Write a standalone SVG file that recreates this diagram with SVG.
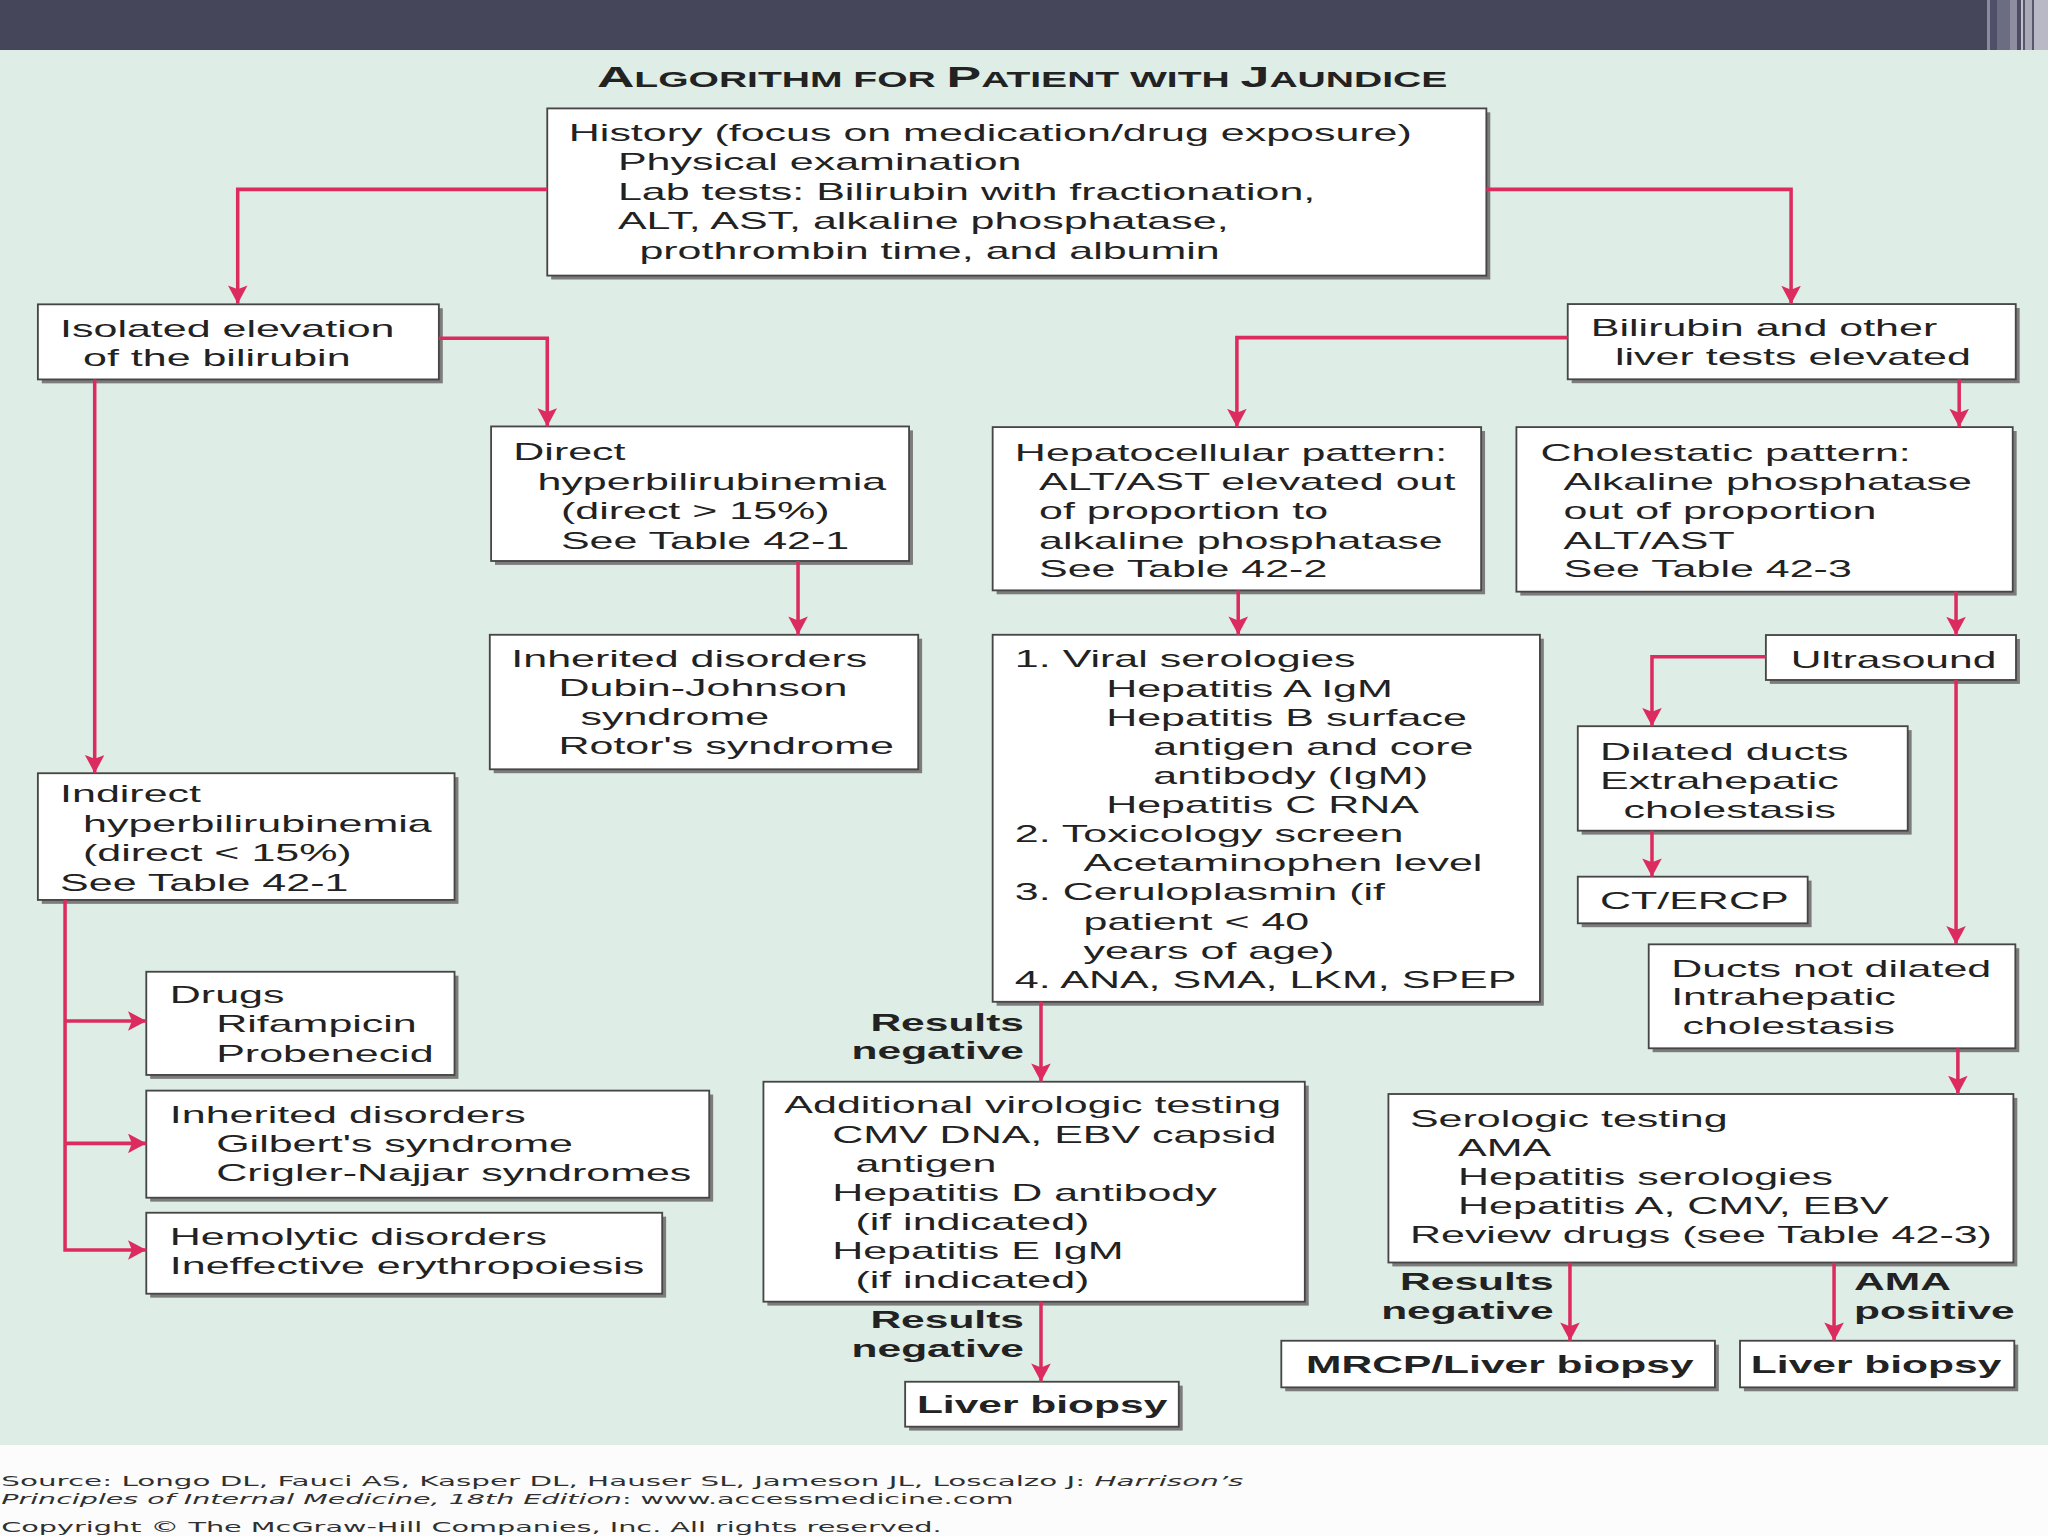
<svg xmlns="http://www.w3.org/2000/svg" width="2048" height="1536" viewBox="0 0 2048 1536">
<defs>
<style>
.box{fill:#ffffff;stroke:#464646;stroke-width:1.4}
.sh{fill:#7c7c7c}
.t{font-family:"Liberation Sans",Arial,Helvetica,sans-serif;font-size:17.6px;fill:#222222}
.b{font-weight:bold}
.c{fill:none;stroke:#dc2b5f;stroke-width:2.7;marker-end:url(#ah)}
.ft{font-family:"DejaVu Sans",Verdana,sans-serif;font-size:11.2px;fill:#303030}
</style>
<marker id="ah" markerUnits="userSpaceOnUse" markerWidth="14" markerHeight="15" viewBox="0 0 14 15" refX="14" refY="7.5" orient="auto">
<path d="M0,0 L14,7.5 L0,15 L3,7.5 Z" fill="#dc2b5f"/>
</marker>
</defs>
<rect width="2048" height="1536" fill="#fbfcfb"/>
<rect y="50" width="2048" height="1395" fill="#deede6"/>
<g id="header">
<rect width="2048" height="50" fill="#45465a"/>
<rect x="1987" width="3" height="50" fill="#8a8aa0"/>
<rect x="1990" width="7" height="50" fill="#4f5068"/>
<rect x="1997" width="13" height="50" fill="#6c6c82"/>
<rect x="2010" width="7" height="50" fill="#8e8ea0"/>
<rect x="2017" width="4" height="50" fill="#4c4d63"/>
<rect x="2021" width="2" height="50" fill="#c0c0cc"/>
<rect x="2023" width="2" height="50" fill="#55566b"/>
<rect x="2025" width="7" height="50" fill="#a9a9b8"/>
<rect x="2032" width="2" height="50" fill="#56576c"/>
<rect x="2034" width="14" height="50" fill="#b9b9c6"/>
</g>
<g transform="scale(1.306122)">
<g id="title">
<text class="t b" transform="translate(457 66.9) scale(1.78 1)"><tspan font-size="22.3">A</tspan><tspan font-size="16.8">LGORITHM FOR </tspan><tspan font-size="22.3">P</tspan><tspan font-size="16.8">ATIENT WITH </tspan><tspan font-size="22.3">J</tspan><tspan font-size="16.8">AUNDICE</tspan></text>
</g>

<g id="n-history">
<rect class="sh" x="422" y="86" width="719" height="128"/>
<rect class="box" x="419" y="83" width="719" height="128"/>
<text class="t" transform="translate(435.5 0) scale(1.87 1)"><tspan x="0" y="108">History (focus on medication/drug exposure)</tspan><tspan x="20.1" y="130.5">Physical examination</tspan><tspan x="20.1" y="153">Lab tests: Bilirubin with fractionation,</tspan><tspan x="20.1" y="175.5">ALT, AST, alkaline phosphatase,</tspan><tspan x="28.9" y="198">prothrombin time, and albumin</tspan></text>
</g>

<g id="n-isolated">
<rect class="sh" x="32" y="236" width="307" height="57.5"/>
<rect class="box" x="29" y="233" width="307" height="57.5"/>
<text class="t" transform="translate(46 0) scale(1.87 1)"><tspan x="0" y="258">Isolated elevation</tspan><tspan x="9.4" y="280.5">of the bilirubin</tspan></text>
</g>

<g id="n-direct">
<rect class="sh" x="379" y="329.5" width="320" height="103"/>
<rect class="box" x="376" y="326.5" width="320" height="103"/>
<text class="t" transform="translate(393 0) scale(1.87 1)"><tspan x="0" y="352.5">Direct</tspan><tspan x="9.9" y="375">hyperbilirubinemia</tspan><tspan x="19.5" y="397.5">(direct &gt; 15%)</tspan><tspan x="19.5" y="420">See Table 42-1</tspan></text>
</g>

<g id="n-inherited-direct">
<rect class="sh" x="378" y="489" width="328" height="103"/>
<rect class="box" x="375" y="486" width="328" height="103"/>
<text class="t" transform="translate(391.5 0) scale(1.87 1)"><tspan x="0" y="510.5">Inherited disorders</tspan><tspan x="19.3" y="533">Dubin-Johnson</tspan><tspan x="28.3" y="555">syndrome</tspan><tspan x="19.3" y="577.5">Rotor's syndrome</tspan></text>
</g>

<g id="n-indirect">
<rect class="sh" x="32" y="595" width="319" height="97"/>
<rect class="box" x="29" y="592" width="319" height="97"/>
<text class="t" transform="translate(46 0) scale(1.87 1)"><tspan x="0" y="614">Indirect</tspan><tspan x="9.4" y="637">hyperbilirubinemia</tspan><tspan x="9.4" y="659">(direct &lt; 15%)</tspan><tspan x="0" y="682">See Table 42-1</tspan></text>
</g>

<g id="n-drugs">
<rect class="sh" x="115" y="747" width="236" height="79"/>
<rect class="box" x="112" y="744" width="236" height="79"/>
<text class="t" transform="translate(130 0) scale(1.87 1)"><tspan x="0" y="768">Drugs</tspan><tspan x="19" y="790.5">Rifampicin</tspan><tspan x="19" y="813">Probenecid</tspan></text>
</g>

<g id="n-inherited-indirect">
<rect class="sh" x="115" y="838" width="431" height="82"/>
<rect class="box" x="112" y="835" width="431" height="82"/>
<text class="t" transform="translate(130 0) scale(1.87 1)"><tspan x="0" y="860">Inherited disorders</tspan><tspan x="19" y="882">Gilbert's syndrome</tspan><tspan x="19" y="904.5">Crigler-Najjar syndromes</tspan></text>
</g>

<g id="n-hemolytic">
<rect class="sh" x="115" y="931.5" width="395" height="62"/>
<rect class="box" x="112" y="928.5" width="395" height="62"/>
<text class="t" transform="translate(130 0) scale(1.87 1)"><tspan x="0" y="953">Hemolytic disorders</tspan><tspan x="0" y="975.5">Ineffective erythropoiesis</tspan></text>
</g>

<g id="n-bilirubin-other">
<rect class="sh" x="1203.3" y="235.8" width="343" height="57.6"/>
<rect class="box" x="1200.3" y="232.8" width="343" height="57.6"/>
<text class="t" transform="translate(1218 0) scale(1.87 1)"><tspan x="0" y="257.5">Bilirubin and other</tspan><tspan x="9.9" y="279.8">liver tests elevated</tspan></text>
</g>

<g id="n-hepatocellular">
<rect class="sh" x="763" y="330" width="374" height="125"/>
<rect class="box" x="760" y="327" width="374" height="125"/>
<text class="t" transform="translate(777 0) scale(1.87 1)"><tspan x="0" y="353">Hepatocellular pattern:</tspan><tspan x="9.9" y="375.5">ALT/AST elevated out</tspan><tspan x="9.9" y="397.5">of proportion to</tspan><tspan x="9.9" y="420">alkaline phosphatase</tspan><tspan x="9.9" y="442">See Table 42-2</tspan></text>
</g>

<g id="n-cholestatic">
<rect class="sh" x="1164" y="330" width="380" height="126"/>
<rect class="box" x="1161" y="327" width="380" height="126"/>
<text class="t" transform="translate(1179.5 0) scale(1.87 1)"><tspan x="0" y="353">Cholestatic pattern:</tspan><tspan x="9.4" y="375.5">Alkaline phosphatase</tspan><tspan x="9.4" y="397.5">out of proportion</tspan><tspan x="9.4" y="420">ALT/AST</tspan><tspan x="9.4" y="442">See Table 42-3</tspan></text>
</g>

<g id="n-viral">
<rect class="sh" x="763" y="489" width="419" height="281"/>
<rect class="box" x="760" y="486" width="419" height="281"/>
<text class="t" transform="translate(777 0) scale(1.87 1)"><tspan x="0" y="511">1. Viral serologies</tspan><tspan x="37.4" y="533.3">Hepatitis A IgM</tspan><tspan x="37.4" y="555.6">Hepatitis B surface</tspan><tspan x="56.7" y="577.9">antigen and core</tspan><tspan x="56.7" y="600.2">antibody (IgM)</tspan><tspan x="37.4" y="622.5">Hepatitis C RNA</tspan><tspan x="0" y="644.8">2. Toxicology screen</tspan><tspan x="28.1" y="667.1">Acetaminophen level</tspan><tspan x="0" y="689.4">3. Ceruloplasmin (if</tspan><tspan x="28.1" y="711.7">patient &lt; 40</tspan><tspan x="28.1" y="734">years of age)</tspan><tspan x="0" y="756.3">4. ANA, SMA, LKM, SPEP</tspan></text>
</g>

<g id="n-additional">
<rect class="sh" x="587.5" y="831.2" width="414.5" height="168.4"/>
<rect class="box" x="584.5" y="828.2" width="414.5" height="168.4"/>
<text class="t" transform="translate(600.5 0) scale(1.87 1)"><tspan x="0" y="852.4">Additional virologic testing</tspan><tspan x="19.6" y="875.1">CMV DNA, EBV capsid</tspan><tspan x="29.1" y="897.4">antigen</tspan><tspan x="19.6" y="919.7">Hepatitis D antibody</tspan><tspan x="29.1" y="942">(if indicated)</tspan><tspan x="19.6" y="964.3">Hepatitis E IgM</tspan><tspan x="29.1" y="986.5">(if indicated)</tspan></text>
</g>

<g id="n-liver-biopsy-1">
<rect class="sh" x="696" y="1060.9" width="209.5" height="34.4"/>
<rect class="box" x="693" y="1057.9" width="209.5" height="34.4"/>
<text class="t b" transform="translate(702 1082) scale(1.85 1)">Liver biopsy</text>
</g>

<g id="n-ultrasound">
<rect class="sh" x="1355" y="489.2" width="191.5" height="34.4"/>
<rect class="box" x="1352" y="486.2" width="191.5" height="34.4"/>
<text class="t" transform="translate(1371 511.7) scale(1.85 1)">Ultrasound</text>
</g>

<g id="n-dilated">
<rect class="sh" x="1211" y="559" width="252.6" height="80"/>
<rect class="box" x="1208" y="556" width="252.6" height="80"/>
<text class="t" transform="translate(1225 0) scale(1.87 1)"><tspan x="0" y="582">Dilated ducts</tspan><tspan x="0" y="604">Extrahepatic</tspan><tspan x="9.6" y="626.3">cholestasis</tspan></text>
</g>

<g id="n-ct-ercp">
<rect class="sh" x="1211" y="674.2" width="176" height="35.7"/>
<rect class="box" x="1208" y="671.2" width="176" height="35.7"/>
<text class="t" transform="translate(1225 696.2) scale(1.87 1)">CT/ERCP</text>
</g>

<g id="n-not-dilated">
<rect class="sh" x="1265.3" y="726" width="280.7" height="79.6"/>
<rect class="box" x="1262.3" y="723" width="280.7" height="79.6"/>
<text class="t" transform="translate(1279.5 0) scale(1.87 1)"><tspan x="0" y="748">Ducts not dilated</tspan><tspan x="0" y="769.8">Intrahepatic</tspan><tspan x="4.6" y="792">cholestasis</tspan></text>
</g>

<g id="n-serologic">
<rect class="sh" x="1066" y="840.6" width="478.5" height="129"/>
<rect class="box" x="1063" y="837.6" width="478.5" height="129"/>
<text class="t" transform="translate(1079.5 0) scale(1.87 1)"><tspan x="0" y="862.6">Serologic testing</tspan><tspan x="19.7" y="884.8">AMA</tspan><tspan x="19.7" y="907.2">Hepatitis serologies</tspan><tspan x="19.7" y="929.5">Hepatitis A, CMV, EBV</tspan><tspan x="0" y="951.9">Review drugs (see Table 42-3)</tspan></text>
</g>

<g id="n-mrcp">
<rect class="sh" x="984" y="1029.5" width="332" height="35.7"/>
<rect class="box" x="981" y="1026.5" width="332" height="35.7"/>
<text class="t b" transform="translate(1000 1051.5) scale(1.85 1)">MRCP/Liver biopsy</text>
</g>

<g id="n-liver-biopsy-2">
<rect class="sh" x="1335.2" y="1029.5" width="210" height="35.7"/>
<rect class="box" x="1332.2" y="1026.5" width="210" height="35.7"/>
<text class="t b" transform="translate(1340.5 1051.5) scale(1.85 1)">Liver biopsy</text>
</g>

<g id="connectors">
<path class="c" d="M419,145 H182 V232.5"/>
<path class="c" d="M1138,145 H1371.3 V232.8"/>
<path class="c" d="M336,259 H419 V326.5"/>
<path class="c" d="M72.5,290.5 V592"/>
<path class="c" d="M611,429.5 V486"/>
<path class="c" d="M49.8,689 V957 H112"/>
<path class="c" d="M49.8,781.7 H112"/>
<path class="c" d="M49.8,875.4 H112"/>
<path class="c" d="M1200.3,258.5 H947 V327"/>
<path class="c" d="M1500,290.4 V327"/>
<path class="c" d="M948,452 V486"/>
<path class="c" d="M1497.6,453 V486.2"/>
<path class="c" d="M1352,502.8 H1264.8 V556"/>
<path class="c" d="M1497.6,520.6 V723"/>
<path class="c" d="M1264.8,636 V671.2"/>
<path class="c" d="M1499,802.6 V837.6"/>
<path class="c" d="M797,767 V828.2"/>
<path class="c" d="M797,996.6 V1057.9"/>
<path class="c" d="M1202,966.7 V1026.5"/>
<path class="c" d="M1404.2,966.7 V1026.5"/>
<text class="t b" text-anchor="end" transform="translate(784 0) scale(1.85 1)"><tspan x="0" y="789.1">Results</tspan><tspan x="0" y="810.8">negative</tspan></text>
<text class="t b" text-anchor="end" transform="translate(784 0) scale(1.85 1)"><tspan x="0" y="1017">Results</tspan><tspan x="0" y="1038.7">negative</tspan></text>
<text class="t b" text-anchor="end" transform="translate(1189.5 0) scale(1.85 1)"><tspan x="0" y="987.7">Results</tspan><tspan x="0" y="1009.5">negative</tspan></text>
<text class="t b" transform="translate(1419.5 0) scale(1.85 1)"><tspan x="0" y="987.7">AMA</tspan><tspan x="0" y="1009.5">positive</tspan></text>
</g>

<g id="footer">
<text class="ft" x="1" y="1137.5" textLength="951" lengthAdjust="spacingAndGlyphs">Source: Longo DL, Fauci AS, Kasper DL, Hauser SL, Jameson JL, Loscalzo J: <tspan font-style="italic">Harrison’s</tspan></text>
<text class="ft" x="1" y="1151.5" textLength="775" lengthAdjust="spacingAndGlyphs"><tspan font-style="italic">Principles of Internal Medicine, 18th Edition</tspan>: www.accessmedicine.com</text>
<text class="ft" x="1" y="1172.7" textLength="720" lengthAdjust="spacingAndGlyphs">Copyright © The McGraw-Hill Companies, Inc. All rights reserved.</text>
</g>
</g>
</svg>
